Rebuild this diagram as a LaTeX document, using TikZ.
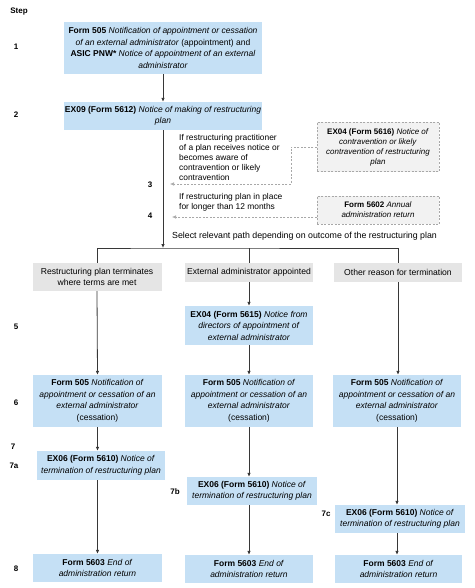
\documentclass[tikz,border=0pt]{standalone}
\usepackage{fontspec}
\setmainfont{Liberation Sans}
\usetikzlibrary{arrows.meta,calc}
\definecolor{formblue}{RGB}{197,224,245}
\definecolor{pathgray}{RGB}{229,229,229}
\definecolor{notegray}{RGB}{242,242,242}
\definecolor{dashgray}{RGB}{168,168,168}
\definecolor{linegray}{RGB}{55,55,55}
\tikzset{
    form/.style = {
        fill = formblue,
        align = center,
        inner sep = 1pt,
        font = \fontsize{8.5}{11.5}\selectfont,
        },
    path box/.style = {
        fill = pathgray,
        align = center,
        inner sep = 1pt,
        font = \fontsize{8.6}{10.5}\selectfont,
        },
    note box/.style = {
        draw = dashgray,
        dash pattern = on 2pt off 1.5pt,
        fill = notegray,
        align = center,
        inner sep = 1pt,
        font = \fontsize{8}{10}\selectfont,
        },
    note/.style = {
        align = left,
        inner sep = 0pt,
        font = \fontsize{8.4}{10}\selectfont,
        },
    stepnum/.style = {
        inner sep = 0pt,
        font = \bfseries\fontsize{8}{9}\selectfont,
        },
    link/.style = {
        draw = linegray,
        line width = 0.8pt,
        },
    flow/.style = {
        link,
        -{Latex[length=4pt,width=3.6pt]},
        },
    feed/.style = {
        draw = dashgray,
        line width = 0.6pt,
        dash pattern = on 2pt off 1.5pt,
        -{Latex[length=4pt,width=3.6pt]},
        },
}
\newcommand{\cessation}{\textbf{Form 505} \textit{Notification of}\\ \textit{appointment or cessation of an}\\ \textit{external administrator}\\ (cessation)}
\newcommand{\termination}{\textbf{EX06 (Form 5610)} \textit{Notice of}\\ \textit{termination of restructuring plan}}
\newcommand{\finalreturn}{\textbf{Form 5603} \textit{End of}\\ \textit{administration return}}
\begin{document}
\begin{tikzpicture}[x=1pt,y=-1pt]
    \useasboundingbox (0,0) rectangle (474,588);

    % step column
    \node [stepnum] (s0) at (19,12) {Step};
    \node [stepnum] (s1) at (16,47) {1};
    \node [stepnum] (s2) at (16,115) {2};
    \node [stepnum] (s3) at (150,185) {3};
    \node [stepnum] (s4) at (150,216) {4};
    \node [stepnum] (s5) at (16,327) {5};
    \node [stepnum] (s6) at (16,403) {6};
    \node [stepnum] (s7) at (13,447) {7};
    \node [stepnum] (s7a) at (14,466) {7a};
    \node [stepnum] (s7b) at (175,492) {7b};
    \node [stepnum] (s7c) at (326,514) {7c};
    \node [stepnum] (s8) at (16,569) {8};

    % start of the plan
    \node [form, minimum width=198pt, minimum height=52pt] (b1) at (163,48)
        {\textbf{Form 505} \textit{Notification of appointment or cessation}\\
         \textit{of an external administrator} (appointment) and\\
         \textbf{ASIC PNW*} \textit{Notice of appointment of an external}\\
         \textit{administrator}};
    \node [form, minimum width=198pt, minimum height=28pt] (b2) at (163,116)
        {\textbf{EX09 (Form 5612)} \textit{Notice of making of restructuring}\\ \textit{plan}};

    \node [note, anchor=north west] (n3) at (179,134)
        {If restructuring practitioner\\ of a plan receives notice or\\ becomes aware of\\ contravention or likely\\ contravention};
    \node [note, anchor=north west] (n4) at (179,193)
        {If restructuring plan in place\\ for longer than 12 months};
    \node [note, anchor=west, font=\fontsize{8.8}{10}\selectfont] (sel) at (172,236)
        {Select relevant path depending on outcome of the restructuring plan};

    \node [note box, minimum width=122pt, minimum height=49pt] (ex04) at (378,147)
        {\textbf{EX04 (Form 5616)} \textit{Notice of}\\ \textit{contravention or likely}\\ \textit{contravention of restructuring}\\ \textit{plan}};
    \node [note box, minimum width=122pt, minimum height=28pt] (f5602) at (378,210)
        {\textbf{Form 5602} \textit{Annual}\\ \textit{administration return}};

    \coordinate (c3) at (170,184);
    \coordinate (c4) at (172,217);
    \coordinate (split) at (163,248);

    \draw [flow] (b1.south) -- (b2.north);
    \draw [feed] (ex04.west) -- ++(-26,0) |- (c3);
    \draw [feed] (f5602.west |- c4) -- (c4);

    % three outcomes
    \node [path box, minimum width=129pt, minimum height=28pt] (pathL) at (97,277)
        {Restructuring plan terminates\\ where terms are met};
    \node [path box, minimum width=128pt, minimum height=19pt] (pathM) at (249,272.5)
        {External administrator appointed};
    \node [path box, minimum width=128pt, minimum height=19pt] (pathR) at (398,272.5)
        {Other reason for termination};

    \draw [flow] (b2.south) -- (split);
    \draw [link] (pathL.north) |- (split) -| (pathR.north);
    \draw [link] (pathM.north) -- (pathM.north |- split);

    \node [form, minimum width=128pt, minimum height=39pt] (ex04b) at (249,325.5)
        {\textbf{EX04 (Form 5615)} \textit{Notice from}\\ \textit{directors of appointment of}\\ \textit{external administrator}};

    \node [form, minimum width=129pt, minimum height=52pt] (f505L) at (97.5,401) {\cessation};
    \node [form, minimum width=128pt, minimum height=52pt] (f505M) at (249,401) {\cessation};
    \node [form, minimum width=128pt, minimum height=52pt] (f505R) at (397,401) {\cessation};

    \node [form, minimum width=128pt, minimum height=29pt] (ex06L) at (101,465.5) {\termination};
    \node [form, minimum width=130pt, minimum height=28pt] (ex06M) at (252,491) {\termination};
    \node [form, minimum width=130pt, minimum height=28pt] (ex06R) at (400,519) {\termination};

    \node [form, minimum width=129pt, minimum height=28pt] (f5603L) at (97.5,568) {\finalreturn};
    \node [form, minimum width=128pt, minimum height=28pt] (f5603M) at (249,569) {\finalreturn};
    \node [form, minimum width=127pt, minimum height=28pt] (f5603R) at (398.5,569) {\finalreturn};

    \draw [flow] (pathL.south) -- (f505L.north);
    \draw [flow] (pathM.south) -- (ex04b.north);
    \draw [flow] (ex04b.south) -- (f505M.north);
    \draw [flow] (pathR.south) -- (pathR.south |- f505R.north);

    \draw [flow] (f505L.south) -- (f505L.south |- ex06L.north);
    \draw [flow] (f505M.south) -- (f505M.south |- ex06M.north);
    \draw [flow] (f505R.south) -- (f505R.south |- ex06R.north);

    \draw [flow] (f505L.south |- ex06L.south) -- (f5603L.north);
    \draw [flow] (f505M.south |- ex06M.south) -- (f5603M.north);
    \draw [flow] (f505R.south |- ex06R.south) -- (f505R.south |- f5603R.north);
\end{tikzpicture}
\end{document}
